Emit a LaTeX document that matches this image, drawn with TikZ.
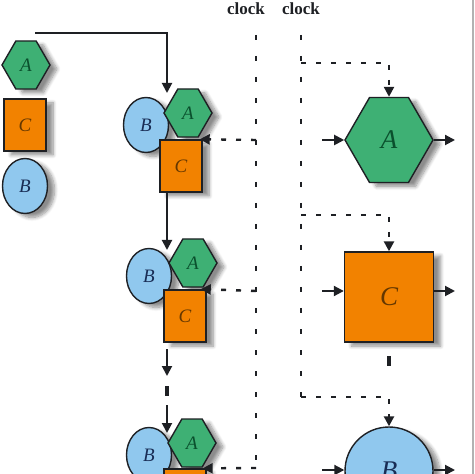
\documentclass[tikz,border=0pt]{standalone}
\usepackage{fontspec}
\setmainfont{Liberation Serif}
\usetikzlibrary{arrows.meta,shapes.geometric,shapes.symbols,shadows.blur}

\definecolor{fig-green}{RGB}{ 62, 176, 116}
\definecolor{fig-orange}{RGB}{242, 130,   0}
\definecolor{fig-blue}{RGB}{  144, 200, 238}
\definecolor{fig-line}{RGB}{   30,  32,  36}
\definecolor{fig-green-txt}{RGB}{ 10,  80,  45}
\definecolor{fig-blue-txt}{RGB}{  25,  45,  85}
\definecolor{fig-orange-txt}{RGB}{100,  55,   0}

\tikzset{
  unit/.style={draw=fig-line, line width=0.7pt, inner sep=0pt,
    font=\fontsize{9.5}{9.5}\selectfont\itshape,
    blur shadow={shadow xshift=3.5pt, shadow yshift=-2pt, shadow blur steps=8, shadow opacity=45}},
  hexA/.style={unit, signal, signal to=east and west, signal pointer angle=120,
    fill=fig-green, text=fig-green-txt, minimum width=24pt, minimum height=24pt},
  sqC/.style={unit, rectangle, fill=fig-orange, text=fig-orange-txt,
    minimum width=21pt, minimum height=26pt},
  circB/.style={unit, ellipse, fill=fig-blue, text=fig-blue-txt,
    minimum width=22.5pt, minimum height=27.5pt},
  bigunit/.style={font=\fontsize{13.5}{13.5}\selectfont\itshape},
  flow/.style={draw=fig-line, line width=1pt, -{Triangle[length=5pt,width=5pt]}},
  clk/.style={draw=fig-line, line width=1.2pt, dash pattern=on 2.5pt off 8pt},
  clkh/.style={draw=fig-line, line width=1.2pt, dash pattern=on 2.5pt off 5pt,
    -{Triangle[length=5pt,width=5pt]}},
  clklabel/.style={font=\fontsize{8.5}{9}\selectfont\bfseries, text=fig-line}
}

\begin{document}
\begin{tikzpicture}[x=0.5pt, y=-0.5pt]
    \useasboundingbox (0,0) rectangle (474,474);
    \clip (0,0) rectangle (474,474);

    % input units
    \node[hexA] (a0) at (26,65) {A};
    \node[sqC] (c0) at (25,125) {C};
    \node[circB] (b0) at (25,186) {B};

    % stage 1
    \node[circB] (b1) at (146,125) {B};
    \node[hexA] (a1) at (188,113) {A};
    \node[sqC] (c1) at (181,166) {C};

    % stage 2
    \node[circB] (b2) at (149,276) {B};
    \node[hexA] (a2) at (193,263) {A};
    \node[sqC] (c2) at (185,316) {C};

    % stage 3 (cut by the lower edge)
    \node[circB] (b3) at (149,455) {B};
    \node[hexA] (a3) at (192,443) {A};
    \node[sqC] (c3) at (185,495) {};

    % large units
    \node[hexA, bigunit, minimum width=44pt, minimum height=42.5pt] (bigA) at (389,140) {A};
    \node[sqC, bigunit, minimum width=44.5pt, minimum height=45pt] (bigC) at (389,297) {C};
    \node[circB, bigunit, minimum width=44pt, minimum height=44pt] (bigB) at (389,471) {B};

    % clocks
    \node[clklabel] (clk1) at (246,9) {clock};
    \node[clklabel] (clk2) at (301,9) {clock};
    \coordinate (t1) at (256,35);
    \coordinate (t2) at (301,35);

    % data path
    \coordinate (start) at (35,33);
    \coordinate (in1) at (167,93);
    \coordinate (in2) at (167,250);
    \coordinate (gap1) at (167,349);
    \coordinate (gap2) at (167,376);
    \coordinate (gap3) at (167,405);
    \coordinate (in3) at (167,433);
    \draw[flow] (start) -| (in1);
    \draw[flow] (c1.south -| in2) -- (in2);
    \draw[flow] (gap1) -- (gap2);
    \draw[fig-line, line width=1.6pt] (167,386) -- (167,396);
    \draw[flow] (gap3) -- (in3);

    % clock lines
    \draw[clk] (t1) -- (256,474);
    \draw[clkh, shorten >=-1.5pt] (256,140) -- (c1.north east);
    \draw[clkh, shorten >=-3pt] (256,291) -- (c2.north east);
    \draw[clkh, shorten >=-2pt] (256,468) -- (c3.north east);

    \draw[clk] (t2) -- (301,397);
    \draw[clkh] (301,63) -| (bigA.north);
    \draw[clkh] (301,215) -| (bigC.north);
    \draw[clkh] (301,397) -| (bigB.north);

    % large unit inputs and outputs
    \draw[flow] (322,140) -- (bigA.west);
    \draw[flow] (bigA.east) -- (455,140);
    \draw[flow] (322,291) -- (bigC.west |- 0,291);
    \draw[flow] (bigC.east |- 0,291) -- (455,291);
    \draw[fig-line, line width=1.6pt] (389,356) -- (389,366);
    \draw[flow] (322,470) -- (bigB.west |- 0,470);
    \draw[flow] (bigB.east |- 0,470) -- (455,470);

    \draw[gray!60, line width=1pt] (472.5,0) -- (472.5,474);
\end{tikzpicture}
\end{document}
